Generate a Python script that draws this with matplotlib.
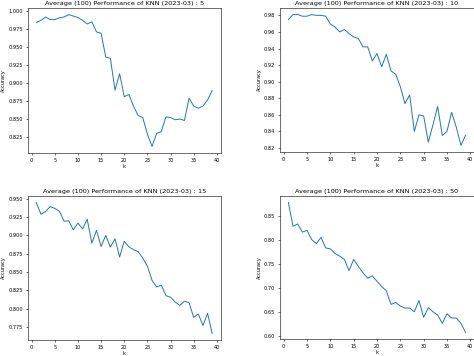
import matplotlib
matplotlib.use("Agg")
import matplotlib.pyplot as plt

k = list(range(1, 40))

acc_5 = [0.984, 0.987, 0.9916, 0.988, 0.988, 0.9906, 0.9916, 0.995, 0.993, 0.991,
         0.987, 0.982, 0.985, 0.971, 0.969, 0.936, 0.9345, 0.890, 0.913, 0.881,
         0.884, 0.868, 0.855, 0.852, 0.829, 0.812, 0.830, 0.8325, 0.853, 0.852,
         0.849, 0.850, 0.848, 0.879, 0.868, 0.865, 0.868, 0.8765, 0.8896]

acc_10 = [0.975, 0.981, 0.981, 0.979, 0.979, 0.981, 0.980, 0.980, 0.979, 0.9695,
          0.966, 0.960, 0.963, 0.958, 0.954, 0.952, 0.942, 0.942, 0.925, 0.934,
          0.918, 0.933, 0.913, 0.909, 0.894, 0.8735, 0.884, 0.840, 0.860, 0.8586,
          0.827, 0.848, 0.870, 0.835, 0.840, 0.863, 0.845, 0.823, 0.8356]

acc_15 = [0.945, 0.929, 0.9327, 0.9395, 0.937, 0.933, 0.9195, 0.920, 0.9077, 0.917,
          0.909, 0.922, 0.8895, 0.907, 0.885, 0.900, 0.884, 0.8955, 0.8705, 0.892,
          0.8845, 0.8805, 0.878, 0.869, 0.858, 0.8386, 0.8295, 0.832, 0.8177, 0.8155,
          0.809, 0.8045, 0.810, 0.808, 0.788, 0.7927, 0.7768, 0.7936, 0.766]

acc_50 = [0.8776, 0.828, 0.833, 0.816, 0.8197, 0.8004, 0.792, 0.805, 0.783, 0.781,
          0.7715, 0.766, 0.759, 0.7357, 0.759, 0.7446, 0.731, 0.720, 0.7247, 0.7136,
          0.7026, 0.6937, 0.6654, 0.6696, 0.662, 0.6578, 0.6578, 0.650, 0.6737, 0.6386,
          0.6585, 0.650, 0.6434, 0.626, 0.646, 0.637, 0.637, 0.626, 0.6069]

titles = ["Average (100) Performance of KNN (2023-03) : 5",
          "Average (100) Performance of KNN (2023-03) : 10",
          "Average (100) Performance of KNN (2023-03) : 15",
          "Average (100) Performance of KNN (2023-03) : 50"]
series = [acc_5, acc_10, acc_15, acc_50]

W, H = 474, 356
dpi = 50
fig = plt.figure(figsize=(W / dpi, H / dpi), dpi=dpi)

# pixel boxes: left, right, top, bottom
boxes = [(27.5, 221, 8, 153), (279.5, 474.5, 8, 152),
         (27.5, 221, 196, 340), (279.5, 474.5, 196, 339)]

for (l, r, t, b), y, title in zip(boxes, series, titles):
    ax = fig.add_axes([l / W, 1 - b / H, (r - l) / W, (b - t) / H])
    ax.plot(k, y, color="#1f77b4", linewidth=1.4)
    ax.set_title(title, fontsize=9.3, pad=5)
    ax.set_xlabel("k", fontsize=7.2, labelpad=2)
    ax.set_ylabel("Accuracy", fontsize=7.2, labelpad=3)
    ax.set_xticks([0, 5, 10, 15, 20, 25, 30, 35, 40])
    ax.tick_params(labelsize=7.2, length=3.5, pad=3)

fig.savefig("out.png", dpi=dpi)
